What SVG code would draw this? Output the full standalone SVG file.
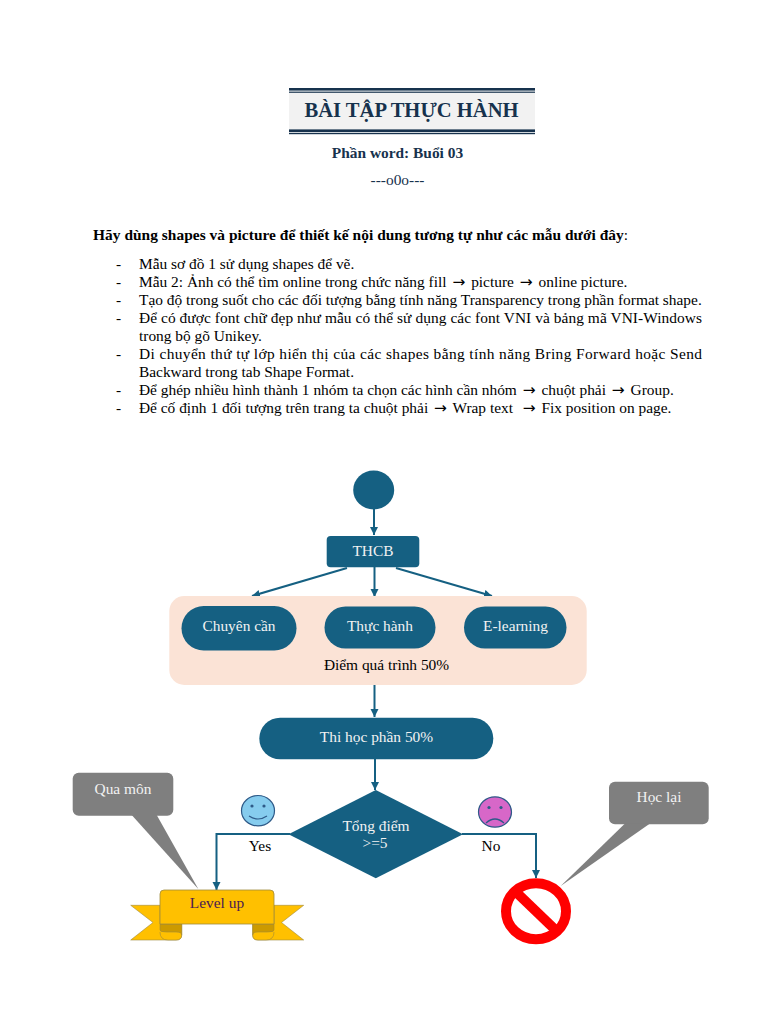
<svg xmlns="http://www.w3.org/2000/svg" width="768" height="1024" viewBox="0 0 768 1024">
<style>
text{font-family:"Liberation Serif","Noto Sans CJK SC",serif;fill:#000}
.b{font-size:15.4px}
.ar{font-family:"DejaVu Sans",sans-serif;font-size:15.4px;letter-spacing:2px}
.n{font-size:15.4px;fill:#f2f2f2;text-anchor:middle}
.l{font-size:15.4px;text-anchor:middle}
.f{fill:#156082}
.c{fill:none;stroke:#156082;stroke-width:2;marker-end:url(#a)}
.g{fill:#7f7f7f}
.s{stroke:#2e5a88;stroke-width:1.2}
.e{fill:none;stroke:#2e5a88;stroke-width:1.2}
.t{stroke:#a08a3c;stroke-width:.6}
</style>
<defs><marker id="a" markerUnits="userSpaceOnUse" markerWidth="9" markerHeight="9" refX="8" refY="4" orient="auto"><path d="M0 0L8 4L0 8z" fill="#156082"/></marker></defs>
<rect width="768" height="1024" fill="#fff"/>
<g id="header">
<rect x="289" y="92" width="246" height="38" fill="#f2f2f2"/>
<rect x="289" y="88" width="246" height="2.6" fill="#17324d"/>
<rect x="289" y="91.6" width="246" height="1.2" fill="#17324d"/>
<rect x="289" y="129.4" width="246" height="2.8" fill="#17324d"/>
<rect x="289" y="133" width="246" height="1.2" fill="#17324d"/>
<text x="411.500" y="117" text-anchor="middle" font-size="20.600" font-weight="700" style="fill:#17324d">BÀI TẬP THỰC HÀNH</text>
<text x="397.500" y="158" text-anchor="middle" font-size="15.4" font-weight="700" style="fill:#17324d">Phần word: Buổi 03</text>
<text x="397.500" y="185" text-anchor="middle" font-size="15.4" style="fill:#17324d">---o0o---</text>
</g>
<g id="body">
<text x="93" y="240" class="b" textLength="535"><tspan font-weight="700">Hãy dùng shapes và picture để thiết kế nội dung tương tự như các mẫu dưới đây</tspan>:</text>
<text x="116" y="269" class="b">-</text><text x="139" y="269" class="b">Mẫu sơ đồ 1 sử dụng shapes để vẽ.</text>
<text x="116" y="287" class="b">-</text><text x="139" y="287" class="b">Mẫu 2: Ảnh có thể tìm online trong chức năng fill <tspan class="ar" dx="2">→</tspan> picture <tspan class="ar" dx="2">→</tspan> online picture.</text>
<text x="116" y="305" class="b">-</text><text x="139" y="305" class="b">Tạo độ trong suốt cho các đối tượng bằng tính năng Transparency trong phần format shape.</text>
<text x="116" y="323" class="b">-</text><text x="139" y="323" class="b" textLength="563">Để có được font chữ đẹp như mẫu có thể sử dụng các font VNI và bảng mã VNI-Windows</text>
<text x="139" y="341" class="b">trong bộ gõ Unikey.</text>
<text x="116" y="359" class="b">-</text><text x="139" y="359" class="b" textLength="563">Di chuyển thứ tự lớp hiển thị của các shapes bằng tính năng Bring Forward hoặc Send</text>
<text x="139" y="377" class="b">Backward trong tab Shape Format.</text>
<text x="116" y="395" class="b">-</text><text x="139" y="395" class="b">Để ghép nhiều hình thành 1 nhóm ta chọn các hình cần nhóm <tspan class="ar" dx="2">→</tspan> chuột phải <tspan class="ar" dx="2">→</tspan> Group.</text>
<text x="116" y="413" class="b">-</text><text x="139" y="413" class="b" xml:space="preserve">Để cố định 1 đối tượng trên trang ta chuột phải <tspan class="ar" dx="2">→</tspan> Wrap text  <tspan class="ar" dx="2">→</tspan> Fix position on page.</text>
</g>
<g id="connectors">
<path class="c" d="M374 509V535"/>
<path class="c" d="M347 568L252 596"/>
<path class="c" d="M374.500 567V597"/>
<path class="c" d="M396 568L492 596"/>
<path class="c" d="M374.500 685V717"/>
<path class="c" d="M375 759V790"/>
<path class="c" d="M290 834H216.500V890"/>
<path class="c" d="M462 834H536V878"/>
</g>
<g id="start"><ellipse class="f" cx="373.700" cy="490" rx="20.500" ry="19.500"/></g>
<g id="thcb"><rect class="f" x="326.700" y="536" width="92.600" height="31.300" rx="4"/><text class="n" x="373" y="556">THCB</text></g>
<g id="group"><rect x="169.300" y="596" width="417.400" height="89" rx="15" fill="#fbe3d6"/><text class="l" x="386.500" y="670">Điểm quá trình 50%</text></g>
<g id="chuyen"><rect class="f" x="181.500" y="606" width="115" height="44.500" rx="22.200"/><text class="n" x="239" y="631">Chuyên cần</text></g>
<g id="thuc"><rect class="f" x="324.500" y="606.500" width="111" height="42" rx="21"/><text class="n" x="380" y="631">Thực hành</text></g>
<g id="elearning"><rect class="f" x="464" y="606.500" width="102.500" height="42" rx="21"/><text class="n" x="515.500" y="631">E-learning</text></g>
<g id="thi"><rect class="f" x="259.300" y="717.700" width="234" height="41.600" rx="20.800"/><text class="n" x="376.500" y="742">Thi học phần 50%</text></g>
<g id="tong"><path class="f" d="M375.800 790L463 834.200L375.800 878.300L288.500 834.200z"/><text class="n" x="376" y="831">Tổng điểm</text><text class="n" x="375" y="848">&gt;=5</text></g>
<g id="yes"><ellipse class="s" cx="258" cy="810.700" rx="16.500" ry="15.200" fill="#86ccee"/><circle cx="252" cy="806" r="1.600" fill="#2e5a88"/><circle cx="264" cy="806" r="1.600" fill="#2e5a88"/><path class="e" d="M249 816Q258 822 267 816"/><text class="l" x="260" y="851">Yes</text></g>
<g id="no"><ellipse class="s" cx="495" cy="812" rx="16.500" ry="15.200" fill="#d767c8"/><circle cx="489" cy="807.500" r="1.600" fill="#2e5a88"/><circle cx="501" cy="807.500" r="1.600" fill="#2e5a88"/><path class="e" d="M486 823Q495 815 504 823"/><text class="l" x="491" y="851">No</text></g>
<g id="qua"><rect class="g" x="72.700" y="772.700" width="100.600" height="43" rx="6"/><path class="g" d="M131.700 815L156.700 815L198.300 889z"/><text class="n" x="123" y="794">Qua môn</text></g>
<g id="hoc"><rect class="g" x="609" y="781.700" width="99.700" height="42.600" rx="6"/><path class="g" d="M625 823.500L650 823.500L560.700 886z"/><text class="n" x="659" y="802">Học lại</text></g>
<g id="level">
<path class="t" d="M160 905.300H130.700L153 922.500L130.700 940H176Q181.700 940 181.700 935V924H160z" fill="#ffc000"/>
<path class="t" d="M274 905.300H303.700L281.500 922.500L303.700 940H258Q252.700 940 252.700 935V924H274z" fill="#ffc000"/>
<path class="t" d="M160 924V930Q160 932 165 932H176Q181.700 932 181.700 935V924z" fill="#cc9a00"/>
<path class="t" d="M274 924V930Q274 932 269 932H258Q252.700 932 252.700 935V924z" fill="#cc9a00"/>
<path class="t" d="M160 932Q160 940 168 940H176Q181.700 940 181.700 935" fill="#ffc000"/>
<path class="t" d="M274 932Q274 940 266 940H258Q252.700 940 252.700 935" fill="#ffc000"/>
<path d="M160 924V894Q160 890 164 890H270Q274 890 274 894V924z" fill="#ffc000" stroke="#a08a3c" stroke-width=".8"/>
<text x="217" y="908" text-anchor="middle" font-size="15.4" style="fill:#4a1a52">Level up</text>
</g>
<g id="stop"><ellipse cx="536" cy="911.200" rx="30" ry="28" fill="none" stroke="#f00" stroke-width="10"/><path d="M516.500 892.500L555.500 930" stroke="#f00" stroke-width="10" fill="none"/></g>
</svg>
